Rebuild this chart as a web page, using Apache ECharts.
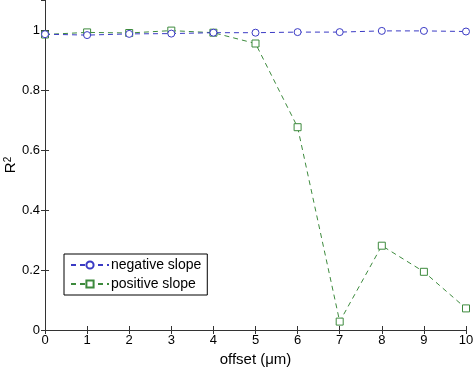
<!DOCTYPE html>
<html><head><meta charset="utf-8">
<script src="https://cdn.jsdelivr.net/npm/echarts@6/dist/echarts.min.js"></script>
<style>html,body{margin:0;padding:0;background:#fff}#c{width:474px;height:367px}</style>
</head><body><div id="c"></div>
<script>
const offsets = [0,1,2,3,4,5,6,7,8,9,10];
const negativeSlope = [0.986,0.983,0.987,0.988,0.991,0.991,0.993,0.993,0.997,0.997,0.995];
const positiveSlope = [0.985,0.992,0.99,0.998,0.991,0.955,0.676,0.028,0.281,0.194,0.072];
const xTicks = [0,1,2,3,4,5,6,7,8,9,10];
const yTicks = [0,0.2,0.4,0.6,0.8,1];

const font = 'Liberation Sans, Arial, sans-serif';
const axisCol = '#333';
const chart = echarts.init(document.getElementById('c'), null, {renderer:'canvas'});
const blue = '#3a3ac4', green = '#3d8a3d';
function mk(vals){ return offsets.map((x,i)=>[x, vals[i]]); }
chart.setOption({
  animation:false,
  grid:{left:45, right:8, top:0, bottom:37, show:false, containLabel:false, outerBoundsMode:'none'},
  legend:{
    left:64, top:254, orient:'vertical', itemWidth:38, itemHeight:9, itemGap:5,
    padding:[4,6,4,6], borderColor:'#000', borderWidth:1, backgroundColor:'#fff',
    textStyle:{fontFamily:font, fontSize:14, color:'#000', padding:[0,0,0,-3]},
    data:['negative slope','positive slope']
  },
  xAxis:[{
    type:'value', min:0, max:10, interval:1, position:'bottom',
    name:'offset (μm)', nameLocation:'middle', nameGap:22, nameMoveOverlap:false,
    nameTextStyle:{fontFamily:font, fontSize:15, color:'#000'},
    axisLine:{show:true, lineStyle:{color:axisCol}},
    axisTick:{show:true, inside:true, length:4, lineStyle:{color:axisCol}},
    axisLabel:{fontFamily:font, fontSize:13, color:'#000', margin:4,
      formatter:v=>xTicks.includes(v)?String(v):''},
    splitLine:{show:false}
  },{
    type:'value', min:0, max:10, interval:1, position:'top',
    axisLine:{show:true, lineStyle:{color:axisCol}},
    axisTick:{show:true, inside:true, length:4, lineStyle:{color:axisCol}},
    axisLabel:{show:false}, splitLine:{show:false}
  }],
  yAxis:[{
    type:'value', min:0, max:1.1, interval:0.2, position:'left',
    name:'{r|R}{s|2}', nameLocation:'middle', nameGap:26, nameRotate:90, nameMoveOverlap:false,
    nameTextStyle:{fontFamily:font, fontSize:15, color:'#000',
      rich:{r:{fontFamily:font, fontSize:15, color:'#000'}, s:{fontFamily:font, fontSize:10, color:'#000', verticalAlign:'top', padding:[0,0,6,0]}}},
    axisLine:{show:true, lineStyle:{color:axisCol}},
    axisTick:{show:true, inside:true, length:4, lineStyle:{color:axisCol}},
    axisLabel:{fontFamily:font, fontSize:13, color:'#000', margin:5, showMaxLabel:false,
      formatter:v=>{const t=yTicks.find(a=>Math.abs(a-v)<1e-6); return t===undefined?'':String(t);}},
    splitLine:{show:false}
  },{
    type:'value', min:0, max:1.1, interval:0.2, position:'right',
    axisLine:{show:true, lineStyle:{color:axisCol}},
    axisTick:{show:true, inside:true, length:4, lineStyle:{color:axisCol}},
    axisLabel:{show:false}, splitLine:{show:false}
  }],
  series:[{
    name:'negative slope', type:'line', data:mk(negativeSlope),
    symbol:'circle', symbolSize:7, showAllSymbol:true,
    itemStyle:{color:'#fff', borderColor:blue, borderWidth:1},
    lineStyle:{color:blue, width:1, type:[5,4]}, z:3
  },{
    name:'positive slope', type:'line', data:mk(positiveSlope),
    symbol:'rect', symbolSize:7, showAllSymbol:true,
    itemStyle:{color:'#fff', borderColor:green, borderWidth:1},
    lineStyle:{color:green, width:1, type:[5,4]}, z:2
  }]
});
</script></body></html>
